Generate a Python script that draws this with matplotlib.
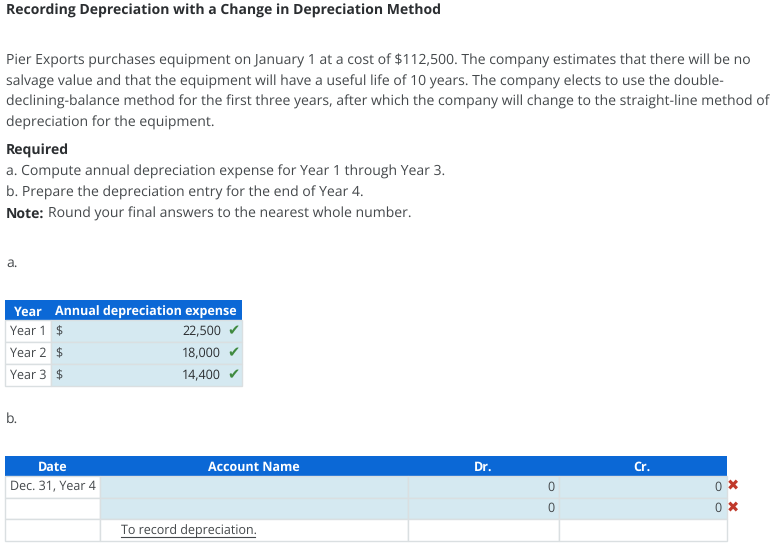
import matplotlib
matplotlib.use('Agg')
import matplotlib.pyplot as plt
from matplotlib.patches import Rectangle

titulo = 'Recording Depreciation with a Change in Depreciation Method'
parrafo = [
    'Pier Exports purchases equipment on January 1 at a cost of $112,500. The company estimates that there will be no',
    'salvage value and that the equipment will have a useful life of 10 years. The company elects to use the double-',
    'declining-balance method for the first three years, after which the company will change to the straight-line method of',
    'depreciation for the equipment.',
]
requisitos = [
    'a. Compute annual depreciation expense for Year 1 through Year 3.',
    'b. Prepare the depreciation entry for the end of Year 4.',
]
nota = 'Round your final answers to the nearest whole number.'

anios = ['Year 1', 'Year 2', 'Year 3']
depreciacion = ['22,500', '18,000', '14,400']
columnas = ['Date', 'Account Name', 'Dr.', 'Cr.']
debe = ['0', '0']
haber = ['0', '0']

AZUL = '#0b68d6'
CELDA = '#d5e9f1'
BORDE = '#dadfe1'
TEXTO = '#44484b'
OSCURO = '#2b2e31'
VERDE = '#3f8a3f'
ROJO = '#c0392b'

plt.rcParams['font.family'] = ['Open Sans', 'DejaVu Sans']
plt.rcParams['text.hinting'] = 'no_hinting'

fig = plt.figure(figsize=(7.84, 5.48), dpi=100)
ax = fig.add_axes([0, 0, 1, 1])
ax.set_xlim(0, 784)
ax.set_ylim(548, 0)
ax.axis('off')

def texto(x, y, s, size=10.1, color=TEXTO, ha='left', weight='normal'):
    ax.text(x, y + 1.9, s, fontsize=size, color=color, ha=ha, va='center', fontweight=weight)

def celda(x0, y0, x1, y1, color='white', borde=BORDE):
    ax.add_patch(Rectangle((x0, y0), x1 - x0, y1 - y0, facecolor=color, edgecolor=borde, linewidth=1.0))

def marca(x, y, s, color):
    ax.text(x, y, s, fontsize=10.5, color=color, ha='center', va='center', family='DejaVu Sans')

# Enunciado
texto(6, 9, titulo, color=OSCURO, weight='bold')
for i, linea in enumerate(parrafo):
    texto(6, 59 + i * 20.7, linea)
texto(6, 149, 'Required', color=OSCURO, weight='bold')
for i, linea in enumerate(requisitos):
    texto(6, 170 + i * 21, linea)
texto(6, 212, 'Note:', color=OSCURO, weight='bold')
texto(48, 212, nota)
texto(6, 261, 'a.')
texto(6, 417, 'b.')

# Tabla de depreciacion
ax.add_patch(Rectangle((5, 300), 237, 20, facecolor=AZUL, edgecolor='none'))
texto(28, 310.5, 'Year', size=9.0, color='white', ha='center', weight='bold')
texto(146, 310.5, 'Annual depreciation expense', size=9.0, color='white', ha='center', weight='bold')
for i, anio in enumerate(anios):
    y0 = 320 + i * 22
    celda(5, y0, 51, y0 + 22)
    celda(51, y0, 242, y0 + 22, CELDA)
    texto(10, y0 + 10, anio, size=9.0)
    texto(55, y0 + 10, '$', size=9.0)
    texto(221, y0 + 10, depreciacion[i], size=9.0, ha='right', color=OSCURO)
    marca(233, y0 + 11, '\u2714', VERDE)

# Tabla del asiento
ax.add_patch(Rectangle((5, 456), 722, 20, facecolor=AZUL, edgecolor='none'))
for x, nombre in zip([53, 254, 483, 642], columnas):
    texto(x, 465.5, nombre, size=9.0, color='white', ha='center', weight='bold')
for i in range(3):
    y0 = 476 + i * 21.5
    color = CELDA if i < 2 else 'white'
    celda(5, y0, 100, y0 + 21.5)
    celda(100, y0, 408, y0 + 21.5, color)
    celda(408, y0, 559, y0 + 21.5, color)
    celda(559, y0, 727, y0 + 21.5, color)
texto(10, 485.5, 'Dec. 31, Year 4', size=9.0)
for i in range(2):
    y = 485.5 + i * 21.5
    texto(555, y, debe[i], size=9.0, ha='right')
    texto(722, y, haber[i], size=9.0, ha='right')
    marca(733, y + 1, '\u2716', ROJO)
texto(121, 529, 'To record depreciation.', size=9.0)
ax.plot([121, 255], [536.5, 536.5], color=TEXTO, linewidth=0.8)

fig.savefig('out.png', dpi=100)
